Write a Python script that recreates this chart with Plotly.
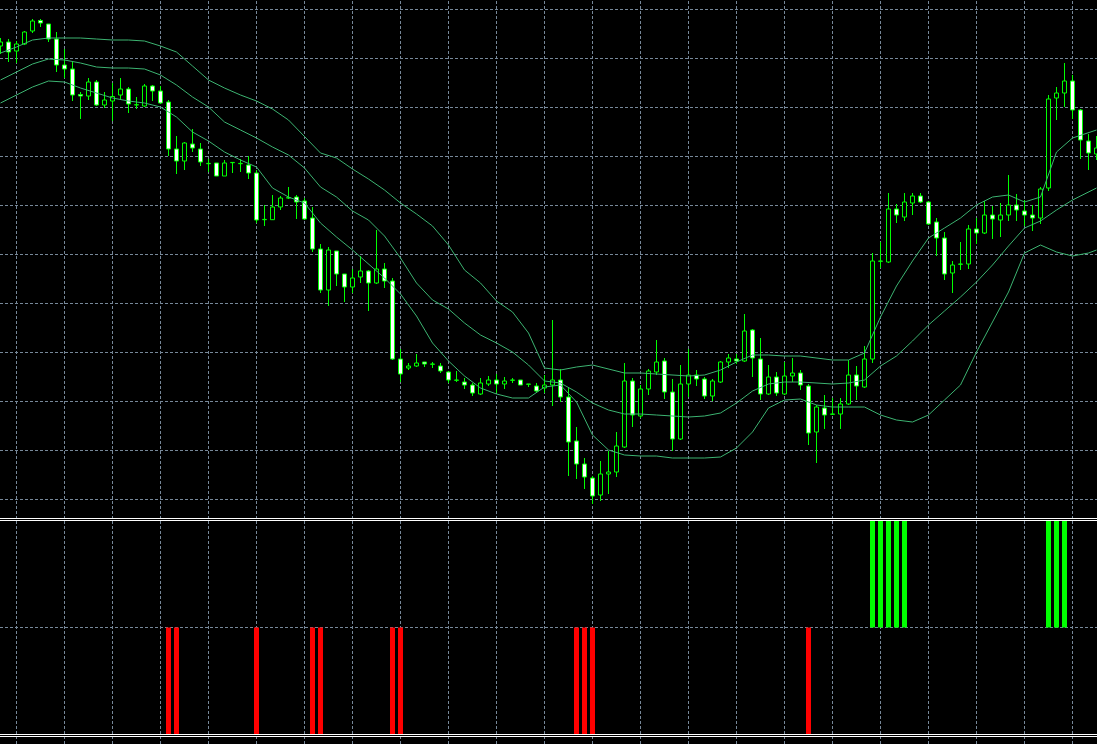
import plotly.graph_objects as go

W, H = 1097, 744

open_ = [1.2554, 1.2558, 1.2549, 1.2556, 1.2569, 1.25795, 1.2576, 1.2561, 1.2535, 1.2531,
         1.25055, 1.2504, 1.2518, 1.2495, 1.2499, 1.2505, 1.2511, 1.2495, 1.2494, 1.2514,
         1.2509, 1.2498, 1.2451, 1.2439, 1.2456, 1.2451, 1.24363, 1.2437, 1.2424, 1.24373,
         1.24363, 1.2435, 1.2427, 1.23803, 1.23803, 1.2393, 1.2402, 1.2403, 1.2399, 1.2382,
         1.2351, 1.2310, 1.2349, 1.2326, 1.2313, 1.2323, 1.2329, 1.2317, 1.2331, 1.2319,
         1.2241, 1.2232, 1.2234, 1.2238, 1.22357, 1.2234, 1.2228, 1.22197, 1.2218, 1.2215,
         1.2206, 1.2216, 1.2220, 1.2216, 1.22197, 1.2220, 1.22157, 1.2214, 1.2212, 1.2215,
         1.2220, 1.2203, 1.2159, 1.2136, 1.2122, 1.2105, 1.2126, 1.2128, 1.2153, 1.2219,
         1.2184, 1.2211, 1.2228, 1.2239, 1.2208, 1.2161, 1.2216, 1.2225, 1.2221, 1.2204,
         1.2218, 1.2238, 1.2241, 1.2239, 1.2270, 1.2241, 1.2206, 1.2223, 1.2206, 1.2224,
         1.2227, 1.2214, 1.2168, 1.2192, 1.21857, 1.2186, 1.2196, 1.2225, 1.2213, 1.2241,
         1.23387, 1.2338, 1.2391, 1.2383, 1.2397, 1.2404, 1.2398, 1.2378, 1.2362, 1.2327,
         1.23357, 1.2336, 1.2371, 1.2367, 1.2385, 1.2380, 1.2385, 1.2395, 1.2389, 1.2385,
         1.2382, 1.2412, 1.2502, 1.2507, 1.2519, 1.2490, 1.2459, 1.2446]
high = [1.2562, 1.2561, 1.2559, 1.2569, 1.2581, 1.2581, 1.2576, 1.2568, 1.2551, 1.2539,
        1.2508, 1.2522, 1.2520, 1.2508, 1.2517, 1.2522, 1.2513, 1.2503, 1.2516, 1.2515,
        1.2514, 1.2500, 1.2464, 1.2458, 1.2471, 1.2457, 1.2441, 1.2437, 1.2440, 1.2438,
        1.2441, 1.2444, 1.2430, 1.2395, 1.2405, 1.2404, 1.2413, 1.2405, 1.2402, 1.2393,
        1.2356, 1.2353, 1.2349, 1.2326, 1.2331, 1.2344, 1.2330, 1.2370, 1.2337, 1.2322,
        1.2251, 1.2237, 1.2246, 1.2238, 1.2238, 1.2237, 1.2229, 1.2229, 1.2222, 1.2217,
        1.2222, 1.2224, 1.2226, 1.2223, 1.2222, 1.2220, 1.2216, 1.2217, 1.2225, 1.2280,
        1.2231, 1.2213, 1.2173, 1.2142, 1.2124, 1.2139, 1.2149, 1.2168, 1.2237, 1.2222,
        1.2215, 1.2231, 1.2260, 1.2242, 1.2221, 1.2235, 1.2251, 1.2230, 1.2223, 1.2221,
        1.2239, 1.2246, 1.2246, 1.2286, 1.2271, 1.2262, 1.2235, 1.2228, 1.2238, 1.2242,
        1.2230, 1.2216, 1.2195, 1.2205, 1.2202, 1.2202, 1.2240, 1.2234, 1.2254, 1.2347,
        1.2358, 1.2407, 1.2396, 1.2407, 1.2407, 1.2407, 1.2399, 1.2382, 1.2368, 1.2339,
        1.2358, 1.2375, 1.2382, 1.2399, 1.2394, 1.2397, 1.2425, 1.2406, 1.2400, 1.2395,
        1.2413, 1.2505, 1.2513, 1.2537, 1.2525, 1.2491, 1.2466, 1.2464]
low = [1.2546, 1.2538, 1.2537, 1.2555, 1.2567, 1.2573, 1.2558, 1.2528, 1.2522, 1.2499,
       1.2481, 1.2500, 1.2494, 1.2492, 1.2479, 1.2501, 1.2487, 1.2491, 1.2493, 1.2499,
       1.2496, 1.2444, 1.2426, 1.2430, 1.2448, 1.2434, 1.2428, 1.2424, 1.2424, 1.2427,
       1.2428, 1.2421, 1.2377, 1.2374, 1.2380, 1.2390, 1.2401, 1.2381, 1.2380, 1.2348,
       1.2307, 1.2294, 1.2314, 1.2298, 1.2307, 1.2317, 1.2289, 1.2316, 1.2312, 1.2240,
       1.2218, 1.2230, 1.2233, 1.2233, 1.2232, 1.2227, 1.2217, 1.2218, 1.2211, 1.2204,
       1.2205, 1.2214, 1.2207, 1.2211, 1.2217, 1.2215, 1.2213, 1.2207, 1.2207, 1.2194,
       1.2198, 1.2124, 1.2121, 1.2111, 1.2096, 1.2099, 1.2106, 1.2123, 1.2152, 1.2173,
       1.2182, 1.2205, 1.2225, 1.2201, 1.2149, 1.2160, 1.2203, 1.2214, 1.2201, 1.2199,
       1.2217, 1.2232, 1.2236, 1.2238, 1.2223, 1.2200, 1.2205, 1.2204, 1.2205, 1.2218,
       1.2210, 1.2155, 1.2137, 1.2171, 1.2185, 1.2171, 1.2195, 1.2200, 1.2212, 1.2237,
       1.2332, 1.2337, 1.2377, 1.2379, 1.2385, 1.2397, 1.2375, 1.2344, 1.2320, 1.2307,
       1.2330, 1.2331, 1.2356, 1.2366, 1.2361, 1.2363, 1.2379, 1.2379, 1.2374, 1.2369,
       1.2376, 1.2409, 1.2480, 1.2493, 1.2481, 1.2441, 1.2430, 1.2440]
close = [1.2558, 1.2548, 1.2556, 1.2568, 1.2579, 1.2577, 1.2561, 1.2535, 1.2531, 1.2505,
         1.2504, 1.2518, 1.2495, 1.2500, 1.25035, 1.2511, 1.2496, 1.2495, 1.2514, 1.2509,
         1.2497, 1.2451, 1.2439, 1.2457, 1.2452, 1.2438, 1.24363, 1.2424, 1.2437, 1.24373,
         1.24363, 1.2427, 1.2380, 1.23803, 1.2393, 1.2402, 1.2402, 1.2398, 1.2381, 1.2351,
         1.2310, 1.2350, 1.2326, 1.2313, 1.2322, 1.2329, 1.2317, 1.2331, 1.2319, 1.2241,
         1.2226, 1.2234, 1.2237, 1.2236, 1.22357, 1.2229, 1.2220, 1.22197, 1.2215, 1.2207,
         1.2217, 1.2220, 1.2216, 1.2219, 1.22197, 1.2215, 1.22157, 1.2209, 1.2215, 1.2220,
         1.2203, 1.2158, 1.2136, 1.2123, 1.2104, 1.2126, 1.2128, 1.2154, 1.2219, 1.2185,
         1.2211, 1.2229, 1.2238, 1.2208, 1.2161, 1.2216, 1.2225, 1.2221, 1.2204, 1.2219,
         1.2238, 1.2242, 1.2239, 1.2269, 1.2242, 1.2206, 1.2223, 1.2207, 1.2224, 1.2227,
         1.2215, 1.2167, 1.2193, 1.2185, 1.21857, 1.2196, 1.2225, 1.2214, 1.2241, 1.2339,
         1.23387, 1.2391, 1.2385, 1.2398, 1.2404, 1.2398, 1.2376, 1.2362, 1.2326, 1.2335,
         1.23357, 1.2371, 1.2367, 1.2385, 1.2381, 1.2385, 1.2395, 1.2390, 1.2385, 1.2382,
         1.2411, 1.2501, 1.2507, 1.2519, 1.2490, 1.2460, 1.2447, 1.2452]

# Bollinger band values read at every second bar (and the last bar)
band_bars = list(range(0, 137, 2)) + [137]
bb_upper = [1.2547, 1.2553, 1.2560, 1.2562, 1.2562, 1.2562, 1.2561, 1.2560, 1.2560, 1.2559,
            1.2554, 1.2548, 1.2534, 1.2520, 1.2512, 1.2505, 1.2499, 1.2491, 1.2480, 1.2463,
            1.2447, 1.2442, 1.2431, 1.2421, 1.2410, 1.2397, 1.2386, 1.2374, 1.2355, 1.2330,
            1.2317, 1.2299, 1.2288, 1.2267, 1.2232, 1.2230, 1.2233, 1.2235, 1.2231, 1.2227,
            1.2227, 1.2226, 1.2225, 1.2224, 1.2225, 1.2230, 1.2238, 1.2245, 1.2245, 1.2244,
            1.2244, 1.2242, 1.2240, 1.2240, 1.2247, 1.2283, 1.2314, 1.2339, 1.2362, 1.2372,
            1.2382, 1.2395, 1.2403, 1.2405, 1.2398, 1.2403, 1.2448, 1.2462, 1.2467, 1.2470]
bb_middle = [1.2520, 1.2528, 1.2536, 1.2541, 1.2540, 1.2537, 1.2533, 1.2532, 1.2532, 1.2531,
             1.2525, 1.2515, 1.2503, 1.2493, 1.2478, 1.2470, 1.2462, 1.2453, 1.2445, 1.2432,
             1.2413, 1.2403, 1.2389, 1.2380, 1.2364, 1.2342, 1.2317, 1.2300, 1.2291, 1.2277,
             1.2265, 1.2257, 1.2248, 1.2235, 1.2219, 1.2217, 1.2208, 1.2197, 1.2190, 1.2186,
             1.2186, 1.2185, 1.2184, 1.2183, 1.2184, 1.2187, 1.2197, 1.2209, 1.2216, 1.2218,
             1.2218, 1.2217, 1.2216, 1.2217, 1.2220, 1.2234, 1.2244, 1.2259, 1.2275, 1.2289,
             1.2303, 1.2318, 1.2335, 1.2354, 1.2372, 1.2379, 1.2390, 1.2400, 1.2408, 1.2412]
bb_lower = [1.2497, 1.2505, 1.2513, 1.2519, 1.2518, 1.2512, 1.2507, 1.2502, 1.2499, 1.2497,
            1.2493, 1.2483, 1.2468, 1.2459, 1.2448, 1.2440, 1.2433, 1.2412, 1.2403, 1.2397,
            1.2377, 1.2363, 1.2350, 1.2336, 1.2322, 1.2306, 1.2284, 1.2257, 1.2239, 1.2224,
            1.2212, 1.2206, 1.2202, 1.2202, 1.2213, 1.2215, 1.2198, 1.2165, 1.2150, 1.2145,
            1.2144, 1.2144, 1.2142, 1.2142, 1.2142, 1.2143, 1.2152, 1.2168, 1.2192, 1.2200,
            1.2201, 1.2195, 1.2193, 1.2193, 1.2193, 1.2185, 1.2180, 1.2178, 1.2185, 1.2200,
            1.2215, 1.2248, 1.2278, 1.2308, 1.2347, 1.2355, 1.2348, 1.2344, 1.2347, 1.2350]

# signal indicator in the lower window: +1 buy (green), -1 sell (red)
signal = [0, 0, 0, 0, 0, 0, 0, 0, 0, 0,
          0, 0, 0, 0, 0, 0, 0, 0, 0, 0,
          0, -1, -1, 0, 0, 0, 0, 0, 0, 0,
          0, 0, -1, 0, 0, 0, 0, 0, 0, -1,
          -1, 0, 0, 0, 0, 0, 0, 0, 0, -1,
          -1, 0, 0, 0, 0, 0, 0, 0, 0, 0,
          0, 0, 0, 0, 0, 0, 0, 0, 0, 0,
          0, 0, -1, -1, -1, 0, 0, 0, 0, 0,
          0, 0, 0, 0, 0, 0, 0, 0, 0, 0,
          0, 0, 0, 0, 0, 0, 0, 0, 0, 0,
          0, -1, 0, 0, 0, 0, 0, 0, 0, 1,
          1, 1, 1, 1, 0, 0, 0, 0, 0, 0,
          0, 0, 0, 0, 0, 0, 0, 0, 0, 0,
          0, 1, 1, 1, 0, 0, 0, 0]

# grid levels of the price window (layout only)
grid_levels = [1.25905 - 0.0049 * k for k in range(11)]
vgrid_bars = list(range(2, 137, 6))

LIME = '#00FF00'
GRID = '#778899'
BAND = '#3CB371'

bars = list(range(len(close)))
body_lo = [min(o, c) for o, c in zip(open_, close)]
body_hi = [max(o, c) for o, c in zip(open_, close)]
body_h = [max(h_ - l_, 0.00003) for h_, l_ in zip(body_hi, body_lo)]
body_fill = ['#FFFFFF' if c < o else '#000000' for o, c in zip(open_, close)]

wx, wy = [], []
for i in bars:
    wx += [i, i, None, i, i, None]
    wy += [high[i], body_hi[i], None, body_lo[i], low[i], None]

fig = go.Figure()
fig.add_trace(go.Scatter(x=wx, y=wy, mode='lines', line=dict(color=LIME, width=1),
                         hoverinfo='skip', connectgaps=False))
fig.add_trace(go.Bar(x=bars, y=body_h, base=body_lo, width=0.5,
                     marker=dict(color=body_fill, line=dict(color=LIME, width=1)),
                     hoverinfo='skip'))
for band in (bb_upper, bb_middle, bb_lower):
    fig.add_trace(go.Scatter(x=band_bars, y=band, mode='lines',
                             line=dict(color=BAND, width=1), hoverinfo='skip'))
fig.add_trace(go.Bar(x=bars, y=signal, yaxis='y2', width=0.625,
                     marker=dict(color=[LIME if s > 0 else '#FF0000' for s in signal],
                                 line=dict(width=0)),
                     hoverinfo='skip'))

shapes = []
for b in vgrid_bars:
    shapes.append(dict(type='line', xref='x', yref='paper', x0=b, x1=b, y0=0, y1=1,
                       line=dict(color=GRID, width=1, dash='3px,2px'), layer='below'))
for py in (518.5, 520.5, 734.5, 736.5):
    shapes.append(dict(type='line', xref='paper', yref='paper', x0=0, x1=1,
                       y0=1 - py / H, y1=1 - py / H,
                       line=dict(color='#FFFFFF', width=1), layer='below'))

x0 = -0.0625
fig.update_layout(
    width=W, height=H, autosize=False,
    margin=dict(l=0, r=0, t=0, b=0, pad=0),
    paper_bgcolor='#000000', plot_bgcolor='rgba(0,0,0,0)',
    showlegend=False, hovermode=False, barmode='overlay',
    xaxis=dict(range=[x0, x0 + W / 8.0], visible=False, fixedrange=True),
    yaxis=dict(domain=[1 - 518 / H, 1], range=[1.2082, 1.2600],
               tickvals=grid_levels, showticklabels=False, ticks='',
               showgrid=True, gridcolor=GRID, gridwidth=1, griddash='3px,2px',
               zeroline=False, showline=False, fixedrange=True),
    yaxis2=dict(domain=[1 - 734 / H, 1 - 521 / H], range=[-1, 1], anchor='x',
                tickvals=[0], showticklabels=False, ticks='',
                showgrid=True, gridcolor=GRID, gridwidth=1, griddash='3px,2px',
                zeroline=False, showline=False, fixedrange=True),
    shapes=shapes,
)

fig.write_html("out.html", config={'displayModeBar': False, 'staticPlot': True},
               post_script="document.body.style.margin='0';document.body.style.overflow='hidden';")
